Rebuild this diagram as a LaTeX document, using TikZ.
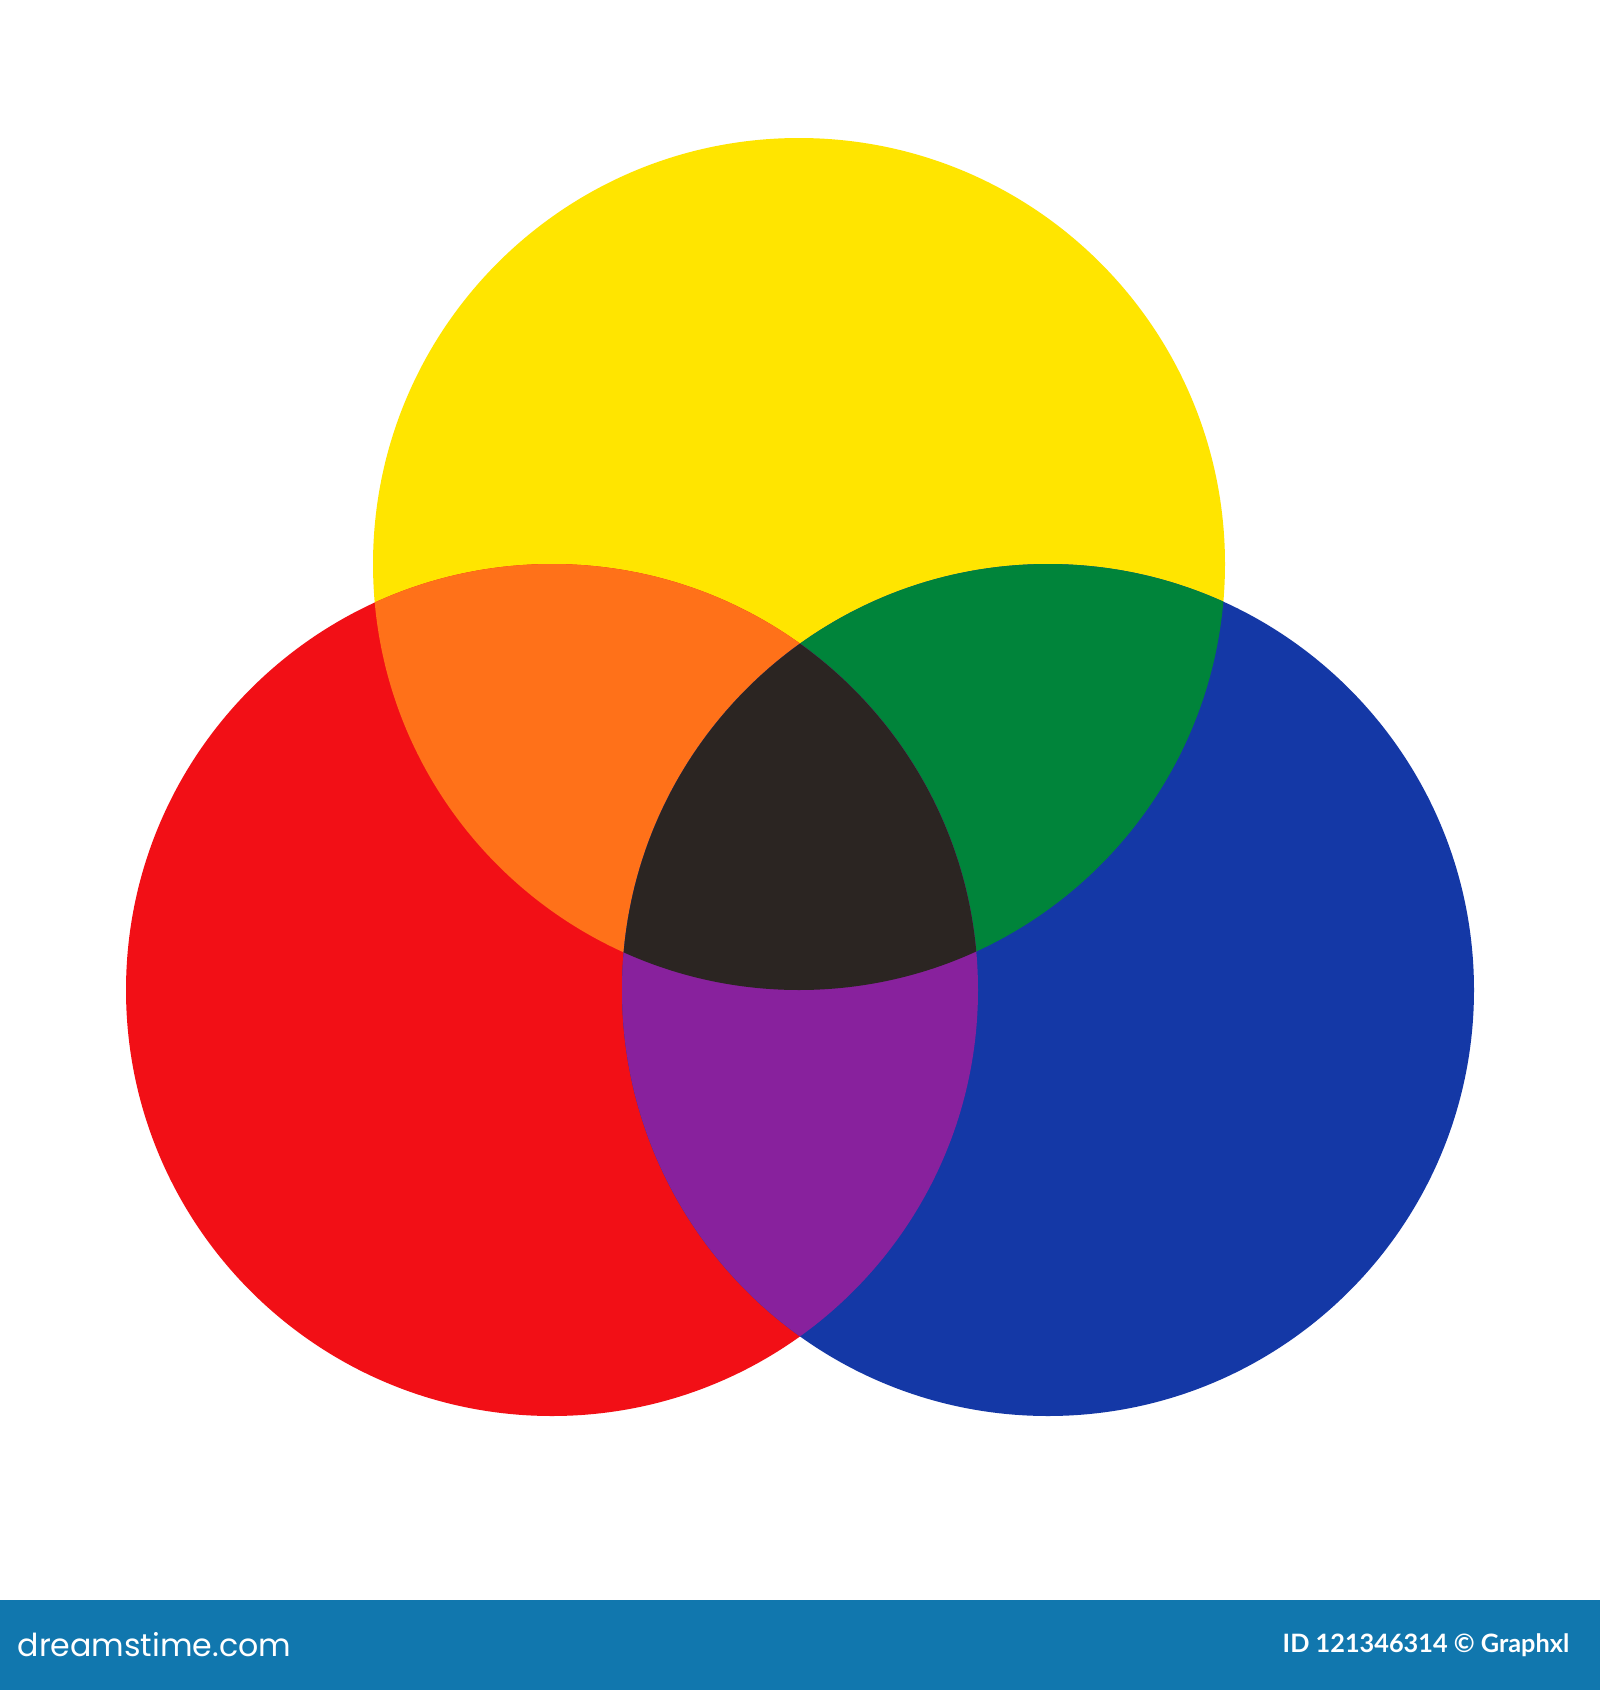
\documentclass[tikz,border=0pt]{standalone}
\usepackage{fontspec}
\setmainfont{Lato}
\newfontfamily\logofont{Poppins}
\usepackage{tikz}
\usetikzlibrary{positioning}

\definecolor{cyel}{HTML}{FFE500}
\definecolor{cred}{HTML}{F20F16}
\definecolor{cblu}{HTML}{1438A6}
\definecolor{corg}{HTML}{FF7119}
\definecolor{cgrn}{HTML}{00843A}
\definecolor{cpur}{HTML}{88219D}
\definecolor{cblk}{HTML}{2B2522}
\definecolor{cbar}{HTML}{1177AE}

\begin{document}
\begin{tikzpicture}[x=0.1mm,y=-0.1mm]
\useasboundingbox (0,0) rectangle (1600,1690);
\fill[white] (0,0) rectangle (1600,1690);

\coordinate (yel) at (799,564);
\coordinate (red) at (552,990);
\coordinate (blu) at (1048,990);
\def\rr{42.6mm} % radius of every circle

% the three circles
\fill[cyel] (yel) circle[radius=\rr];
\fill[cred] (red) circle[radius=\rr];
\fill[cblu] (blu) circle[radius=\rr];

% two at a time
\begin{scope}
\clip (yel) circle[radius=\rr];
\fill[corg] (red) circle[radius=\rr];
\fill[cgrn] (blu) circle[radius=\rr];
\end{scope}
\begin{scope}
\clip (red) circle[radius=\rr];
\fill[cpur] (blu) circle[radius=\rr];
\end{scope}

% all three
\begin{scope}
\clip (yel) circle[radius=\rr];
\clip (red) circle[radius=\rr];
\fill[cblk] (blu) circle[radius=\rr];
\end{scope}

% bottom bar
\fill[cbar] (0,1600) rectangle (1600,1690);
\node[anchor=west,text=white,inner sep=0pt,font=\logofont\fontsize{9}{10}\selectfont]
  (logo) at (17,1645) {dreamstime.com};
\node[anchor=east,text=white,inner sep=0pt,font=\bfseries\fontsize{7.2}{8}\selectfont]
  (ident) at (1570,1645) {ID 121346314 © Graphxl};

\end{tikzpicture}
\end{document}
